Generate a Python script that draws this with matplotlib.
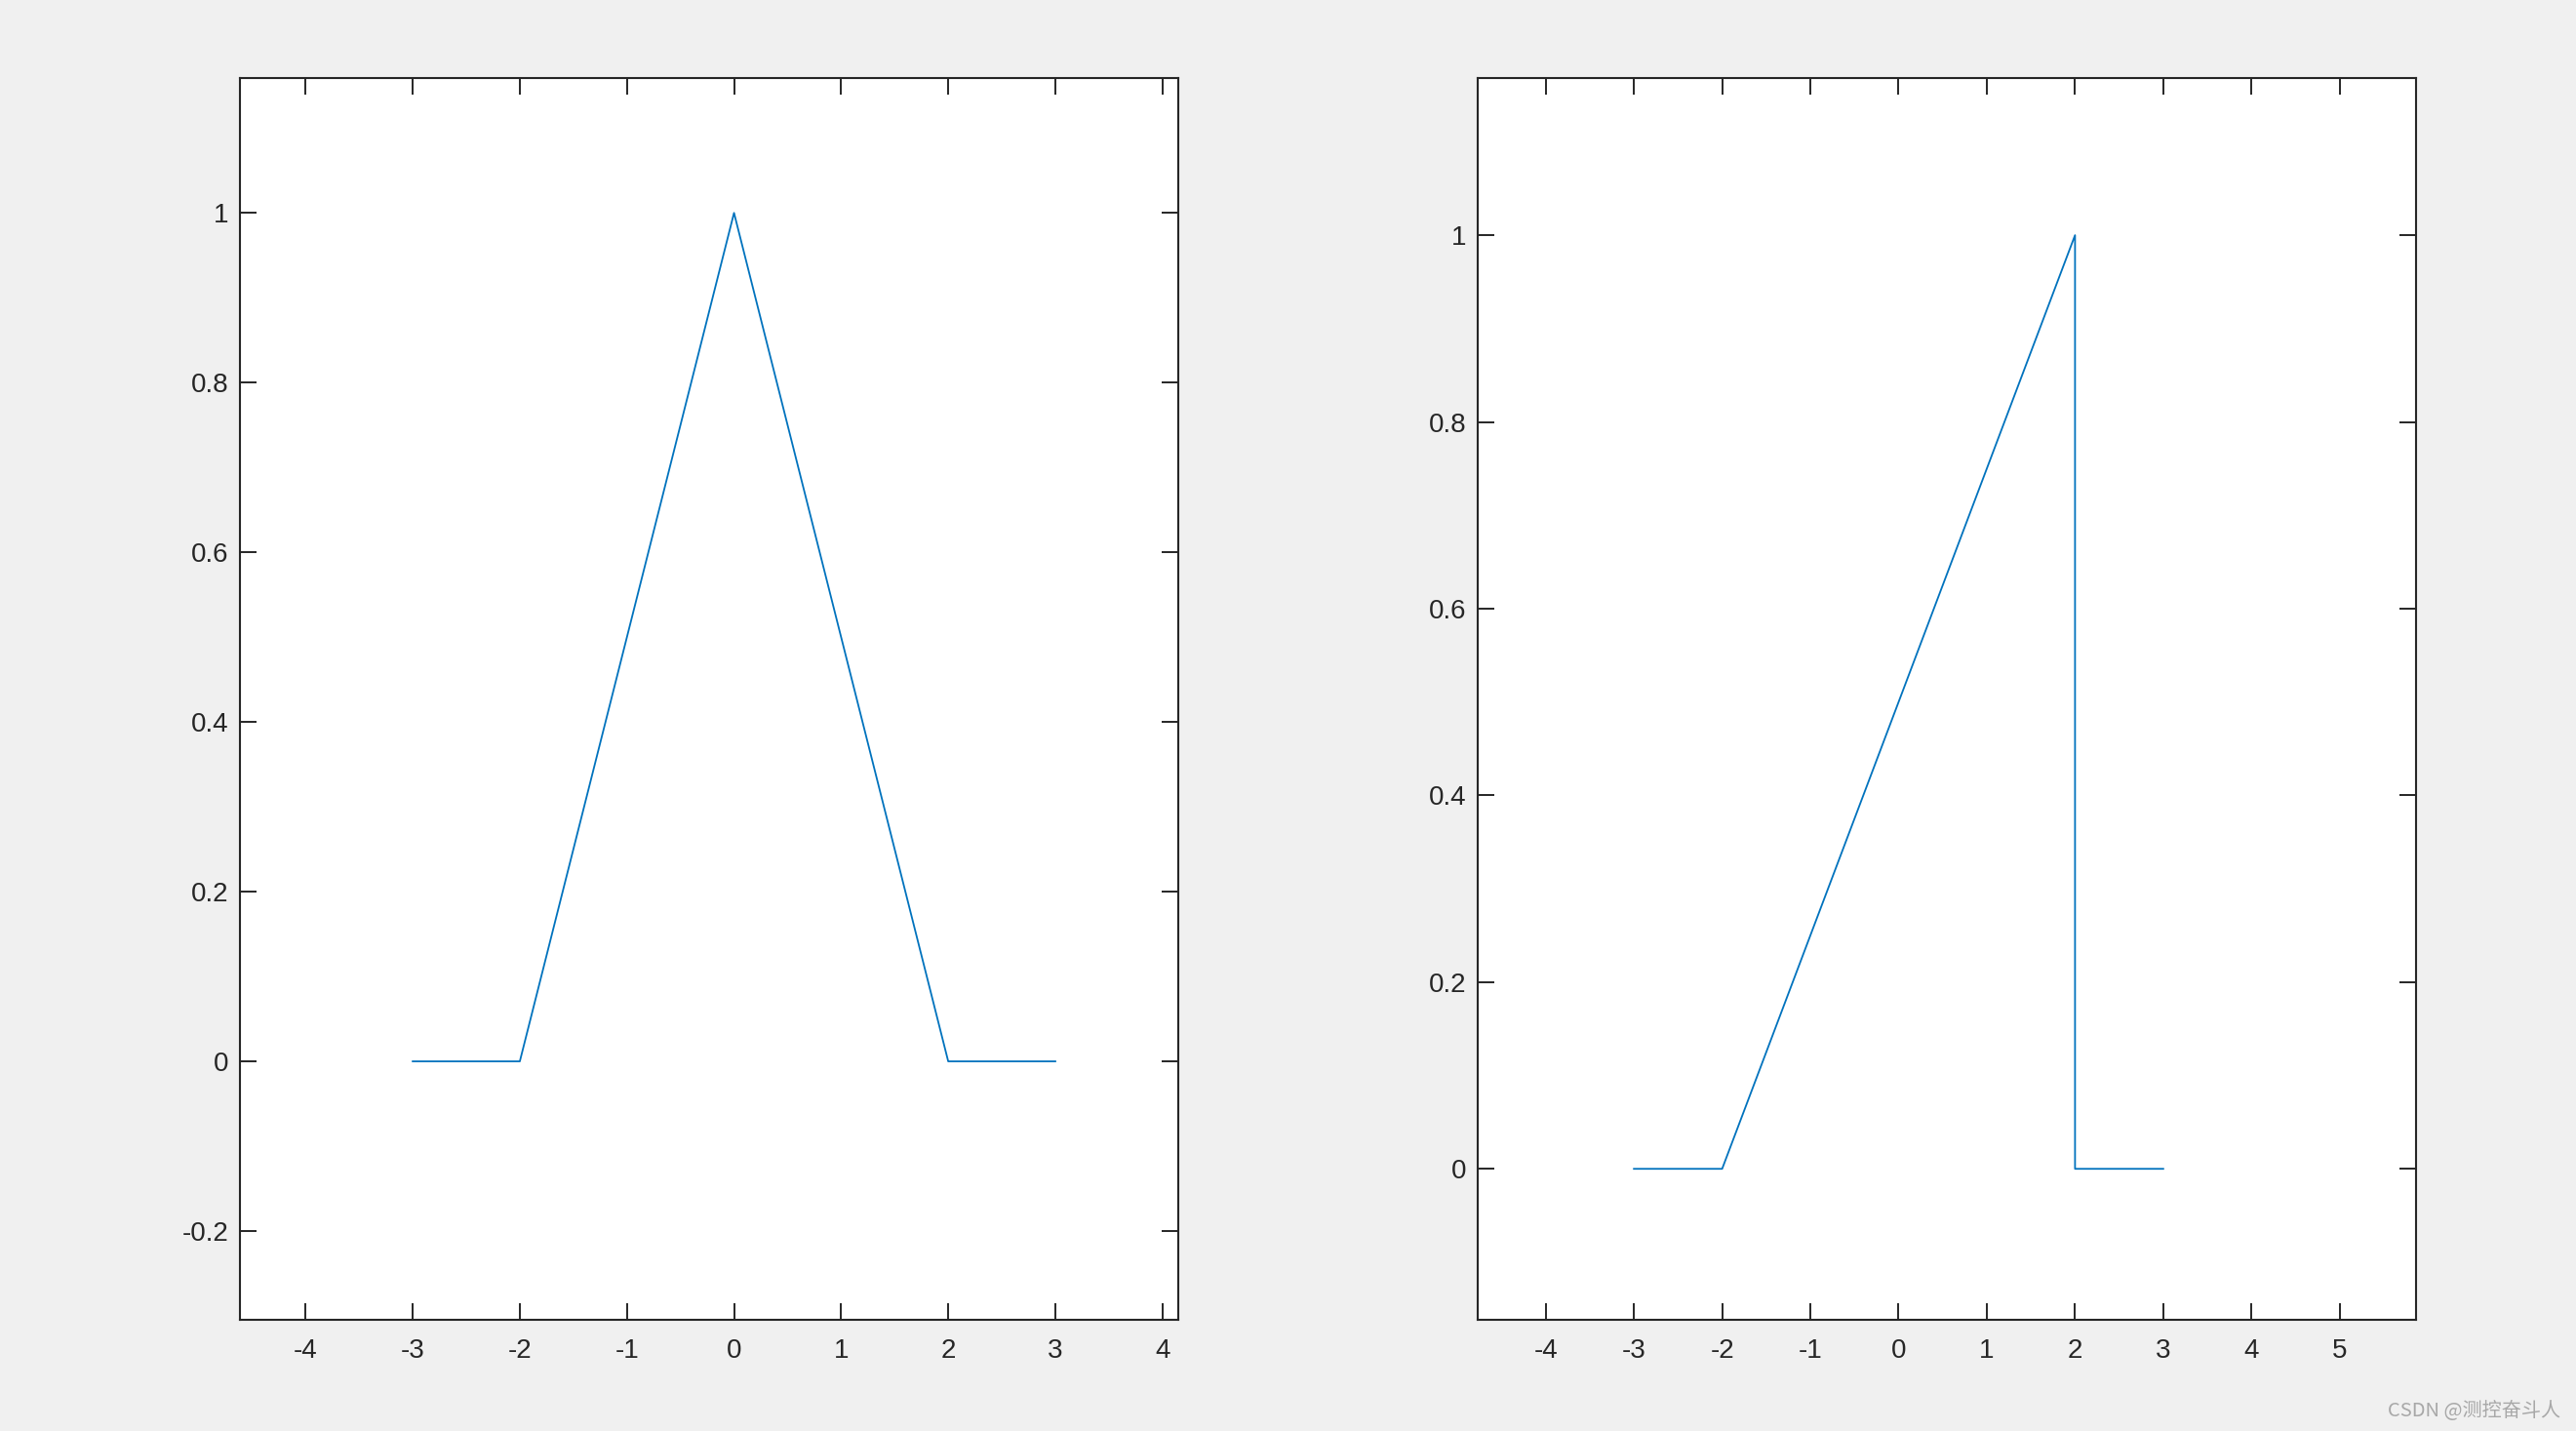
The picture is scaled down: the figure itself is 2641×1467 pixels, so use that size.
import matplotlib
matplotlib.use("Agg")
import matplotlib.pyplot as plt
import numpy as np

# Data
left_x = [-3, -2, 0, 2, 3]
left_y = [0, 0, 1, 0, 0]
right_x = [-3, -2, 2, 2, 3]
right_y = [0, 0, 1, 0, 0]

left_xticks = [-4, -3, -2, -1, 0, 1, 2, 3, 4]
left_yticks = [-0.2, 0, 0.2, 0.4, 0.6, 0.8, 1]
right_xticks = [-4, -3, -2, -1, 0, 1, 2, 3, 4, 5]
right_yticks = [0, 0.2, 0.4, 0.6, 0.8, 1]

W, H = 2641, 1467
fig = plt.figure(figsize=(W / 100, H / 100), dpi=100, facecolor="#f0f0f0")
plt.rcParams['font.family'] = ['Liberation Sans', 'DejaVu Sans']

axcol = "#262626"
linecol = "#0072bd"

def fmt(v):
    return "%g" % v

def style(ax, xt, yt):
    ax.set_facecolor("white")
    for sp in ax.spines.values():
        sp.set_color(axcol)
        sp.set_linewidth(1.5)
    ax.set_xticks(xt)
    ax.set_yticks(yt)
    ax.set_xticklabels([fmt(v) for v in xt])
    ax.set_yticklabels([fmt(v) for v in yt])
    ax.tick_params(direction="in", length=12, width=1.4, color=axcol,
                   labelcolor=axcol, labelsize=20, top=True, right=True,
                   pad=8)
    ax.tick_params(axis="x", pad=14)

ax1 = fig.add_axes([245.7 / W, 1 - 1353 / H, (1208 - 245.7) / W, (1353 - 80.3) / H])
ax1.plot(left_x, left_y, color=linecol, lw=1.3)
ax1.set_xlim(-4.616, 4.148)
ax1.set_ylim(-0.3046, 1.1586)
style(ax1, left_xticks, left_yticks)

ax2 = fig.add_axes([1514.7 / W, 1 - 1353 / H, (2476.7 - 1514.7) / W, (1353 - 80.3) / H])
ax2.plot(right_x, right_y, color=linecol, lw=1.3)
ax2.set_xlim(-4.774, 5.862)
ax2.set_ylim(-0.1617, 1.168)
style(ax2, right_xticks, right_yticks)

fig.text(2625 / W, 1 - 1447 / H, "CSDN @测控奋斗人", ha="right", va="center",
         fontsize=14.5, color="#a8a8a8",
         family=['Noto Sans CJK SC', 'DejaVu Sans'])

fig.savefig("out.png", dpi=100, facecolor=fig.get_facecolor())
